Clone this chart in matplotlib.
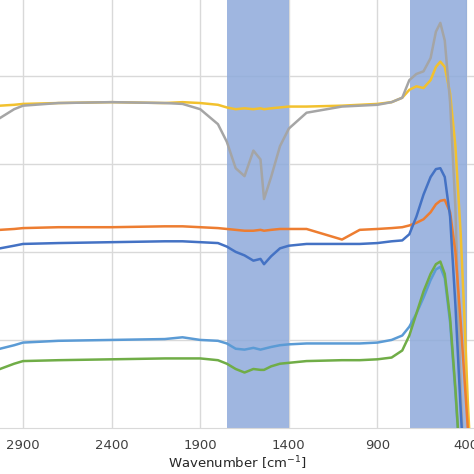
import matplotlib.pyplot as plt

wn = [3030, 2950, 2900, 2700, 2400, 2100, 2000, 1900, 1800, 1750, 1700, 1650, 1600, 1560, 1540, 1500, 1450, 1400, 1300, 1100, 1000, 900, 820, 760, 720, 680, 640, 600, 570, 545, 520, 490, 460, 430, 410, 390, 370, 355]
yellow = [3.66,3.67,3.68,3.69,3.70,3.69,3.70,3.69,3.67,3.64,3.62,3.63,3.62,3.63,3.62,3.63,3.64,3.65,3.65,3.66,3.67,3.68,3.70,3.75,3.84,3.88,3.86,3.95,4.10,4.16,4.10,3.80,3.20,2.20,1.30,0.30,-0.5,-0.5]
gray = [3.52,3.62,3.66,3.69,3.70,3.69,3.68,3.62,3.45,3.25,2.95,2.86,3.15,3.05,2.60,2.85,3.20,3.40,3.58,3.65,3.66,3.67,3.70,3.75,3.95,4.02,4.05,4.20,4.50,4.60,4.40,3.70,2.50,0.40,-0.5,-0.5,-0.5,-0.5]
orange = [2.25,2.26,2.27,2.28,2.28,2.29,2.29,2.28,2.27,2.26,2.25,2.24,2.24,2.25,2.24,2.25,2.26,2.26,2.26,2.14,2.25,2.26,2.27,2.28,2.30,2.33,2.37,2.45,2.54,2.58,2.59,2.45,2.00,1.20,0.60,0.00,-0.5,-0.5]
dblue = [2.04,2.07,2.09,2.10,2.11,2.12,2.12,2.11,2.10,2.06,2.00,1.96,1.90,1.92,1.86,1.95,2.04,2.07,2.09,2.09,2.09,2.10,2.12,2.13,2.20,2.40,2.65,2.85,2.94,2.95,2.85,2.40,1.40,0.20,-0.5,-0.5,-0.5,-0.5]
lblue = [0.90,0.94,0.97,0.99,1.00,1.01,1.03,1.00,0.99,0.96,0.90,0.89,0.91,0.89,0.90,0.92,0.94,0.95,0.96,0.96,0.96,0.97,1.00,1.05,1.15,1.30,1.48,1.68,1.80,1.83,1.70,1.20,0.40,-0.5,-0.5,-0.5,-0.5,-0.5]
green = [0.67,0.73,0.76,0.77,0.78,0.79,0.79,0.79,0.77,0.73,0.67,0.63,0.67,0.66,0.66,0.70,0.73,0.74,0.76,0.77,0.77,0.78,0.80,0.88,1.05,1.30,1.55,1.75,1.86,1.89,1.75,1.25,0.45,-0.5,-0.5,-0.5,-0.5,-0.5]
xticks = [2900, 2400, 1900, 1400, 900, 400]
bands = [(1750, 1400), (716, 394)]

fig = plt.figure(figsize=(4.74, 4.74), dpi=100)
ax = fig.add_axes([0, 1 - 428/474, 1, 428/474])
for a, b in bands:
    ax.axvspan(b, a, color='#8eaadb', alpha=0.85, lw=0, zorder=1)
for y, c in [(yellow,'#f2c12e'),(gray,'#a5a5a5'),(orange,'#ed7d31'),(dblue,'#4472c4'),(lblue,'#5b9bd5'),(green,'#70ad47')]:
    ax.plot(wn, y, color=c, lw=1.8, zorder=3)
ax.set_xlim(3030, 355)
ax.set_ylim(0, 4.86)
ax.set_xticks(xticks)
ax.set_yticks([1, 2, 3, 4])
ax.set_yticklabels([])
ax.grid(True, color='#d9d9d9', lw=1, zorder=0)
ax.set_axisbelow(True)
for s in ['top', 'right', 'left']:
    ax.spines[s].set_visible(False)
ax.spines['bottom'].set_color('#d9d9d9')
ax.tick_params(length=0, labelsize=9.5, colors='#404040', pad=8)
ax.set_xlabel('Wavenumber [cm$^{-1}$]', fontsize=9.5, color='#262626', labelpad=2)
fig.savefig('out.png', dpi=100)
